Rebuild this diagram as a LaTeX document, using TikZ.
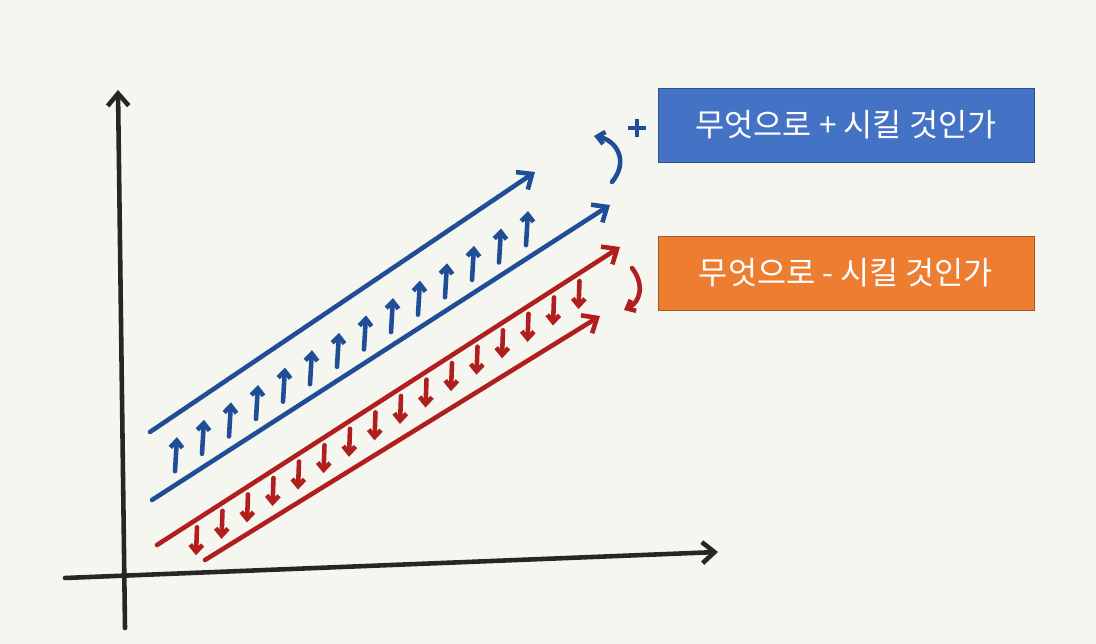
\documentclass[tikz,border=0pt]{standalone}
\usepackage{fontspec}
\newfontfamily\kofont{Noto Sans CJK KR}
\usetikzlibrary{arrows.meta}
\definecolor{paper}{HTML}{F5F6F0}
\definecolor{penblue}{HTML}{1F4E96}
\definecolor{penred}{HTML}{B01E1E}
\definecolor{boxblue}{HTML}{4472C4}
\definecolor{boxorange}{HTML}{ED7D31}
\tikzset{
  pen/.style={line width=2.6pt, line cap=round, line join=round},
  tip/.style={-{Straight Barb[length=7pt,width=12pt]}},
  smalltip/.style={-{Straight Barb[length=4pt,width=7pt]}},
  labelbox/.style={minimum width=376*0.02cm, minimum height=74*0.02cm, text=white,
    font=\kofont\fontsize{18}{22}\selectfont, inner sep=0pt},
}
\begin{document}
\begin{tikzpicture}[x=0.02cm, y=-0.02cm]
\useasboundingbox[fill=paper] (0,0) rectangle (1096,644);
% axes
\draw[pen, tip, black!85] (125,628) -- (118,90);
\draw[pen, tip, black!85] (65,578) -- (718,552);
% blue lines
\draw[pen, tip, penblue] (150,432) -- (535,172);
\draw[pen, tip, penblue] (152,500) -- (610,205);
% red lines
\draw[pen, tip, penred] (157,545) -- (620,247);
\draw[pen, tip, penred] (205,560) -- (600,316);
% small up arrows
\foreach \i in {0,...,13} {
  \pgfmathsetmacro{\xx}{175+\i*27}
  \pgfmathsetmacro{\yy}{500-(\xx-152)/458*295}
  \draw[pen, smalltip, penblue] (\xx,\yy-14) -- (\xx+2,\yy-48);
}
% small down arrows
\foreach \i in {0,...,15} {
  \pgfmathsetmacro{\xx}{197+\i*25.5}
  \pgfmathsetmacro{\yy}{545-(\xx-157)/463*298}
  \draw[pen, smalltip, penred] (\xx,\yy+8) -- (\xx-1,\yy+36);
}
% turning arrows
\draw[pen, smalltip, penblue] (612,182) .. controls (630,160) and (615,140) .. (594,136);
\draw[penblue, line width=2.2pt] (628,128) -- (646,128) (637,119) -- (637,137);
\draw[pen, smalltip, penred] (632,268) .. controls (645,285) and (640,302) .. (624,310);
% labels
\node[labelbox, fill=boxblue, draw=boxblue!70!black] (plus) at (846,125) {무엇으로 + 시킬 것인가};
\node[labelbox, fill=boxorange, draw=boxorange!70!black] (minus) at (846,273) {무엇으로 - 시킬 것인가};
\end{tikzpicture}
\end{document}
